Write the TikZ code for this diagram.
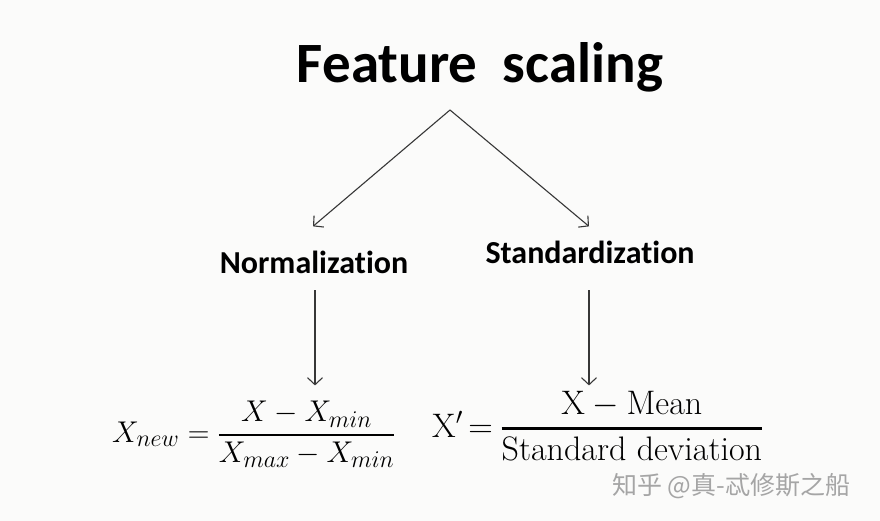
\RequirePackage{fix-cm}
\documentclass[tikz,border=0pt]{standalone}
\usepackage{amsmath}
\usepackage{fontspec}
\newfontfamily\calibri[RawFeature=-liga]{Carlito}
\newfontfamily\cjk{Noto Sans CJK SC}
\usetikzlibrary{arrows.meta}
\DeclareMathSizes{30}{30}{24}{18}
\definecolor{bg}{RGB}{251,251,250}
\definecolor{linec}{RGB}{55,55,55}
\definecolor{wm}{RGB}{165,165,165}
\tikzset{
  heading/.style={inner sep=0pt, anchor=base, font=\calibri\bfseries\fontsize{57}{60}\selectfont},
  method/.style={inner sep=0pt, anchor=base, font=\calibri\bfseries\fontsize{32}{36}\selectfont},
  formula/.style={inner sep=0pt, anchor=base west},
  arr/.style={draw=linec, line width=1.1pt, -{Straight Barb[length=7pt,width=15pt,line width=1.1pt]}},
}
\begin{document}
\begin{tikzpicture}[x=1pt,y=-1pt]
\fill[bg] (0,0) rectangle (880,521);
\useasboundingbox (0,0) rectangle (880,521);
\node[heading] (t) at (480,83) {Feature\ \ scaling};
\coordinate (apex) at (450,110);
\node[method] (n) at (314,273) {Normalization};
\node[method] (s) at (590,263) {Standardization};
\node[formula, font=\fontsize{30}{36}\selectfont] (f1) at (112,442)
  {$X_{new} = \genfrac{}{}{2pt}{0}{X - X_{min}}{X_{max} - X_{min}}$};
\node[formula, font=\fontsize{34}{38}\selectfont] (f2) at (432,437)
  {$\mathrm{X}'\mkern-2mu = \mkern-1mu \genfrac{}{}{2.2pt}{0}{\mathrm{X} - \text{Mean}}{\text{Standard deviation}}$};
\node[inner sep=0pt, anchor=base west, text=wm, font=\cjk\fontsize{25}{28}\selectfont] (w) at (612,494) {知乎 @真-忒修斯之船};
\draw[arr] (apex) -- ([yshift=24pt,xshift=-1pt]n.north);
\draw[arr] (apex) -- ([yshift=14pt,xshift=-1pt]s.north);
\draw[arr] ([yshift=-17pt,xshift=1pt]n.south) -- ([yshift=-112pt,xshift=1pt]n.south);
\draw[arr] ([yshift=-27pt,xshift=-1pt]s.south) -- ([yshift=-122pt,xshift=-1pt]s.south);
\end{tikzpicture}
\end{document}
